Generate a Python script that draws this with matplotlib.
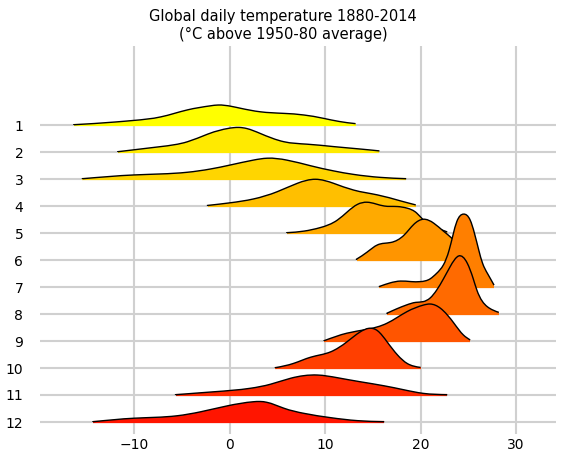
import numpy as np
import matplotlib
matplotlib.use("Agg")
import matplotlib.pyplot as plt
from matplotlib.path import Path
from matplotlib.patches import PathPatch

# ---- data (temperature in degC, density height in row units) ----
months = [str(m) for m in range(1, 13)]

x1 = [-16.3, -12, -10, -7.2, -4.4, -2, -1.2, 0.2, 1.15, 3.2, 5.7, 7.8, 9.8, 11.5, 13.2]
h1 = [0.01, 0.11, 0.17, 0.30, 0.56, 0.71, 0.74, 0.69, 0.62, 0.49, 0.43, 0.37, 0.25, 0.13, 0.05]

x2 = [-11.7, -7.2, -4.4, -2.3, 0.4, 1.0, 1.8, 3.2, 5.7, 8.1, 10.9, 13.7, 15.7]
h2 = [0.01, 0.20, 0.38, 0.66, 0.90, 0.91, 0.87, 0.69, 0.38, 0.29, 0.20, 0.11, 0.04]

x3 = [-15.4, -10, -4.4, -2, 0.1, 2.5, 3.95, 6.0, 8.5, 10.9, 13, 15.8, 18.5]
h3 = [0.01, 0.15, 0.25, 0.37, 0.52, 0.70, 0.77, 0.70, 0.49, 0.30, 0.17, 0.06, 0.01]

x4 = [-2.3, 0.1, 2.5, 5.0, 7.1, 9.0, 10.9, 13, 15.5, 17.9, 19.5]
h4 = [0.02, 0.12, 0.26, 0.53, 0.84, 0.99, 0.84, 0.59, 0.41, 0.19, 0.04]

x5 = [6.0, 7.8, 9.5, 11.3, 13.4, 14.4, 16.2, 17.6, 18.6, 19.6, 20.2, 21.5, 22.8]
h5 = [0.01, 0.07, 0.20, 0.48, 1.06, 1.14, 1.00, 0.98, 0.92, 0.74, 0.52, 0.22, 0.04]

x6 = [13.3, 14.4, 15.5, 16.9, 18.3, 19.3, 20.3, 21.4, 22.4, 23.3, 24.3, 25.3, 26.0]
h6 = [0.03, 0.29, 0.56, 0.65, 0.93, 1.32, 1.51, 1.36, 1.07, 0.80, 0.44, 0.15, 0.04]

x7 = [15.7, 16.8, 17.9, 19.0, 20.0, 21.0, 21.7, 22.4, 23.0, 23.8, 24.5, 25.2, 26.1, 26.5, 27.0, 27.7]
h7 = [0.02, 0.15, 0.22, 0.20, 0.20, 0.30, 0.51, 0.82, 1.37, 2.42, 2.70, 2.48, 1.37, 0.88, 0.51, 0.07]

x8 = [16.5, 17.5, 18.5, 19.5, 20.3, 21.0, 21.7, 22.4, 23.1, 24.0, 24.9, 25.5, 25.9, 27.0, 28.2]
h8 = [0.03, 0.19, 0.33, 0.43, 0.46, 0.59, 0.89, 1.30, 1.75, 2.15, 1.88, 1.33, 0.89, 0.27, 0.06]

x9 = [9.9, 12.3, 14.4, 16.5, 18.6, 20.3, 21.0, 22.1, 23.5, 24.5, 25.2]
h9 = [0.01, 0.29, 0.43, 0.66, 1.09, 1.33, 1.37, 1.21, 0.66, 0.22, 0.04]

x10 = [4.8, 6.7, 8.5, 10.6, 12.3, 13.7, 14.6, 15.5, 16.5, 17.6, 18.6, 20.0]
h10 = [0.01, 0.17, 0.40, 0.60, 0.97, 1.34, 1.47, 1.38, 0.97, 0.48, 0.17, 0.02]

x11 = [-5.65, -1.6, 2.2, 4.3, 6.4, 9.2, 11.3, 13.7, 16.2, 18.3, 20.3, 22.8]
h11 = [0.01, 0.12, 0.25, 0.40, 0.62, 0.74, 0.64, 0.49, 0.34, 0.19, 0.06, 0.01]

x12 = [-14.3, -10, -5.5, -3.0, -0.2, 2.5, 3.2, 3.9, 5.7, 7.8, 10.6, 13.4, 16.2]
h12 = [0.01, 0.14, 0.23, 0.38, 0.60, 0.75, 0.76, 0.73, 0.51, 0.32, 0.16, 0.05, 0.01]

xs_all = [x1, x2, x3, x4, x5, x6, x7, x8, x9, x10, x11, x12]
hs_all = [h1, h2, h3, h4, h5, h6, h7, h8, h9, h10, h11, h12]

xticks = [-10, 0, 10, 20, 30]
title = "Global daily temperature 1880-2014\n(°C above 1950-80 average)"

# ---- drawing ----
W, H = 566, 462
fig = plt.figure(figsize=(W / 100, H / 100), dpi=100)
ax = fig.add_axes([40 / W, 1 - 434 / H, 516 / W, (434 - 46) / H])

n = len(months)
cmap = plt.get_cmap("autumn_r")
grid_col = "#d0d0d0"


def smooth_verts(px, py):
    """Natural cubic spline through the read points, expressed as Bezier path vertices."""
    x = np.asarray(px, float)
    y = np.asarray(py, float)
    m = len(x)
    hx = np.diff(x)
    d = np.diff(y) / hx
    A = np.zeros((m, m))
    b = np.zeros(m)
    A[0, 0] = 1.0
    A[-1, -1] = 1.0
    for i in range(1, m - 1):
        A[i, i - 1] = hx[i - 1]
        A[i, i] = 2 * (hx[i - 1] + hx[i])
        A[i, i + 1] = hx[i]
        b[i] = 6 * (d[i] - d[i - 1])
    M = np.linalg.solve(A, b)
    s = np.zeros(m)
    for i in range(m - 1):
        s[i] = d[i] - hx[i] * (2 * M[i] + M[i + 1]) / 6.0
    s[-1] = d[-1] + hx[-1] * (M[-2] + 2 * M[-1]) / 6.0
    verts = [(x[0], y[0])]
    codes = [Path.MOVETO]
    for i in range(m - 1):
        dx = hx[i] / 3.0
        verts += [(x[i] + dx, y[i] + s[i] * dx),
                  (x[i + 1] - dx, y[i + 1] - s[i + 1] * dx),
                  (x[i + 1], y[i + 1])]
        codes += [Path.CURVE4] * 3
    return verts, codes


for i in range(n):
    base = n - 1 - i
    col = cmap(i / float(n))
    xs = np.asarray(xs_all[i], float)
    ys = base + np.asarray(hs_all[i], float)
    ax.axhline(base, color=grid_col, lw=1.5, zorder=2 * i + 1)
    verts, codes = smooth_verts(xs, ys)
    fverts = [(xs[0], base)] + verts + [(xs[-1], base), (xs[0], base)]
    fcodes = [Path.MOVETO, Path.LINETO] + codes[1:] + [Path.LINETO, Path.CLOSEPOLY]
    ax.add_patch(PathPatch(Path(fverts, fcodes), facecolor=col, edgecolor="none",
                           zorder=2 * i + 2))
    ax.plot([xs[0], xs[-1]], [base, base], color=col, lw=1.6, zorder=2 * i + 2,
            solid_capstyle="butt")
    lverts = [(xs[0], base)] + verts
    lcodes = [Path.MOVETO, Path.LINETO] + codes[1:]
    ax.add_patch(PathPatch(Path(lverts, lcodes), facecolor="none", edgecolor="black",
                           lw=1.0, zorder=2 * i + 2.5))

ax.set_xlim((40 - 229.5) / 9.55, (556 - 229.5) / 9.55)
ax.set_ylim((422 - 434) / 27.0, (422 - 46) / 27.0)
ax.set_xticks(xticks)
ax.set_xticklabels([f"{t}" if t >= 0 else f"\u2212{-t}" for t in xticks])
ax.set_yticks([n - 1 - i for i in range(n)])
ax.set_yticklabels(months)
for t in xticks:
    ax.axvline(t, color=grid_col, lw=1.5, zorder=0)
ax.tick_params(axis="both", length=0, labelsize=10)
ax.tick_params(axis="x", pad=3)
ax.tick_params(axis="y", pad=12)
for s in ax.spines.values():
    s.set_visible(False)

fig.text(0.5, 1 - 9 / H, title, ha="center", va="top", fontsize=10.5, linespacing=1.25)

fig.savefig("out.png", dpi=100)
